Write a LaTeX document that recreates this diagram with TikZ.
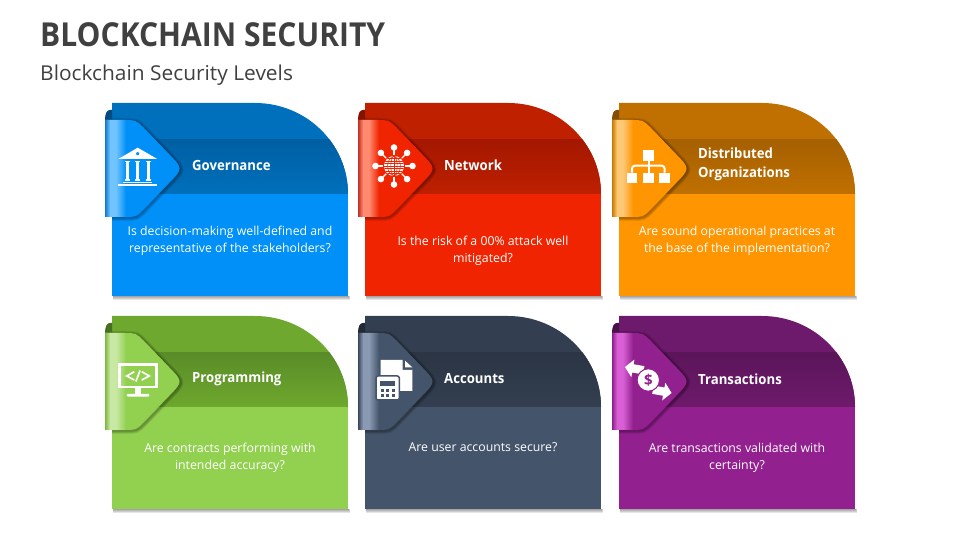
\documentclass[tikz,border=0pt]{standalone}
\usepackage{fontspec}
\setmainfont{Open Sans}
\newfontfamily\titlefont[FakeStretch=0.91]{Open Sans}
\newfontfamily\subfont[FakeStretch=1.02]{Open Sans}
\newfontfamily\cardfont[FakeStretch=0.94]{Open Sans}
\definecolor{bluemain}{HTML}{0090F8}\definecolor{bluedark}{HTML}{0070BC}\definecolor{blueband}{HTML}{005FA3}\definecolor{bluelight}{HTML}{70C4FF}\definecolor{blueedge}{HTML}{1278D0}
\definecolor{redmain}{HTML}{F02400}\definecolor{reddark}{HTML}{BE2000}\definecolor{redband}{HTML}{A41700}\definecolor{redlight}{HTML}{FF8A70}\definecolor{rededge}{HTML}{C03020}
\definecolor{orangemain}{HTML}{FF9500}\definecolor{orangedark}{HTML}{C07000}\definecolor{orangeband}{HTML}{A56000}\definecolor{orangelight}{HTML}{FFC875}\definecolor{orangeedge}{HTML}{C87800}
\definecolor{greenmain}{HTML}{92D050}\definecolor{greendark}{HTML}{6EA82E}\definecolor{greenband}{HTML}{598C28}\definecolor{greenlight}{HTML}{C8E8A4}\definecolor{greenedge}{HTML}{7DB840}
\definecolor{slatemain}{HTML}{44546A}\definecolor{slatedark}{HTML}{333F50}\definecolor{slateband}{HTML}{2B3544}\definecolor{slatelight}{HTML}{8A9AB2}\definecolor{slateedge}{HTML}{3A475A}
\definecolor{purplemain}{HTML}{92208F}\definecolor{purpledark}{HTML}{6E1A6C}\definecolor{purpleband}{HTML}{5B1559}\definecolor{purplelight}{HTML}{D860D4}\definecolor{purpleedge}{HTML}{8C1F8A}
\tikzset{
	cardtitle/.style={text=white, inner sep=0pt, anchor=west, align=left, font=\fontsize{14}{19}\cardfont\bfseries},
	cardtext/.style={text=white, inner sep=0pt, anchor=north, align=center, font=\fontsize{12.3}{17}\selectfont},
	icon/.style={fill=white, draw=none},
	iconline/.style={draw=white, line width=2pt}
}
\newcommand{\tabpath}{(-7,-17) -- (12,-17) .. controls (24,-17) .. (32,-25) -- (57,-51) .. controls (71,-65.5) .. (57,-80) -- (32,-106) .. controls (24,-114) .. (12,-114) -- (-7,-114) -- cycle}
\newcommand{\blockcard}[3]{%
	\begin{scope}[shift={(#1,#2)}]
	% shadow under the card
	\foreach \w in {1,2,3,4} {\fill[black, opacity=.1] (1,-193) rectangle (236+.5*\w,-193-\w);}
	\fill[#3main] (0,-90) rectangle (236,-193);
	\fill[#3dark] (0,0) -- (143,0) arc[start angle=90, end angle=0, x radius=93, y radius=91] -- (0,-91) -- cycle;
	\begin{scope}
		\clip (0,0) -- (143,0) arc[start angle=90, end angle=0, x radius=93, y radius=91] -- (0,-91) -- cycle;
		\shade[top color=#3band, bottom color=#3dark] (0,-37) rectangle (236,-91);
	\end{scope}
	% back of the ribbon
	\fill[#3band!80!black] (0,-7) -- (-2,-7) .. controls (-5,-7) and (-7,-10) .. (-7,-17) -- (0,-17) -- cycle;
	\begin{scope}
		\clip (0,0) rectangle (236,-193);
		\foreach \w in {1,2,3,4,5,6} {\draw[black, opacity=.06, line width=\w pt, shift={(1,-1)}] \tabpath;}
	\end{scope}
	\fill[#3main] \tabpath;
	\begin{scope}
		\clip \tabpath;
		\shade[left color=#3edge, right color=#3light] (-7,-10) rectangle (-1.9,-120);
		\fill[#3light] (-2,-10) rectangle (4,-120);
		\shade[left color=#3light, right color=#3main] (3.9,-10) rectangle (14,-120);
	\end{scope}
	\end{scope}
}
\begin{document}
\begin{tikzpicture}[x=1pt, y=1pt]
	\useasboundingbox (0,0) rectangle (960,540);
	\fill[white] (0,0) rectangle (960,540);
	\node[text=black!75, inner sep=0pt, anchor=base west, font=\fontsize{33}{33}\titlefont\bfseries] (title) at (40,493.5) {BLOCKCHAIN SECURITY};
	\node[text=black!75, inner sep=0pt, anchor=base west, font=\fontsize{20.5}{21}\subfont] (subtitle) at (40,459.5) {Blockchain Security Levels};
	\foreach \cx/\cy/\cname in {112/437/blue, 365/437/red, 619/437/orange, 112/224/green, 365/224/slate, 619/224/purple} {
		\blockcard{\cx}{\cy}{\cname}
	}

	\node[cardtitle] (govtitle) at (192,374.5) {Governance};
	\node[cardtitle] (nettitle) at (444,374.5) {Network};
	\node[cardtitle] (orgtitle) at (698,376) {Distributed\\Organizations};
	\node[cardtitle] (progtitle) at (192,161) {Programming};
	\node[cardtitle] (acctitle) at (444,161) {Accounts};
	\node[cardtitle] (transtitle) at (698,161) {Transactions};
	\node[cardtext] (govtext) at (230,314) {Is decision-making well-defined and\\representative of the stakeholders?};
	\node[cardtext] (nettext) at (483,304) {Is the risk of a 00\% attack well\\mitigated?};
	\node[cardtext] (orgtext) at (737,314) {Are sound operational practices at\\the base of the implementation?};
	\node[cardtext] (progtext) at (230,97.5) {Are contracts performing with\\intended accuracy?};
	\node[cardtext] (acctext) at (483,97.5) {Are user accounts secure?};
	\node[cardtext] (transtext) at (737,97.5) {Are transactions validated with\\certainty?};

	% bank
	\begin{scope}[shift={(112,437)}]
		\fill[icon, even odd rule] (25.7,-44.7) -- (45.3,-56) -- (6.3,-56) -- cycle (25.7,-50.7) circle (2.2pt);
		\draw[white, line width=.8pt] (25.7,-50.7) circle (2.2pt);
		\foreach \px in {15.3,25.7,36.3} {
			\fill[icon] (\px-1.6,-59.5) rectangle (\px+1.6,-76);
			\fill[icon] (\px-2.6,-57.7) rectangle (\px+2.6,-59);
			\fill[icon] (\px-2.6,-76.4) rectangle (\px+2.6,-77.7);
		}
		\fill[icon] (11.3,-78.6) rectangle (40.3,-79.8);
		\fill[icon] (6.3,-81.2) rectangle (45.3,-82.7);
	\end{scope}
	% globe with spokes
	\begin{scope}[shift={(394,374)}]
		\foreach \a in {0,45,...,315} {
			\draw[white, line width=1.1pt] (\a:11) -- (\a:18);
			\fill[icon] (\a:18.5) circle (3.3pt);
		}
		\begin{scope}
			\clip (0,0) circle (10pt);
			\fill[icon] (-11,-11) rectangle (11,11);
			\foreach \g in {-7.5,-5,...,7.5} {
				\draw[redmain, line width=.55pt] (-11,\g) -- (11,\g);
			}
			\draw[redmain, line width=.55pt] (0,-11) -- (0,11);
			\foreach \rx in {3.2,6.4} {
				\draw[redmain, line width=.55pt] (0,0) ellipse[x radius=\rx, y radius=9.6];
			}
		\end{scope}
	\end{scope}
	% org chart
	\begin{scope}[shift={(619,437)}]
		\fill[icon] (24.3,-47) rectangle (35.3,-58);
		\foreach \bx in {7.7,24.3,40.3} {\fill[icon] (\bx,-69.7) rectangle (\bx+10.7,-79.7);}
		\draw[iconline] (29.8,-58) -- (29.8,-69.7);
		\draw[iconline, rounded corners=3pt] (13,-69.7) -- (13,-62.7) -- (45.7,-62.7) -- (45.7,-69.7);
	\end{scope}
	% monitor
	\begin{scope}[shift={(112,224)}]
		\draw[iconline, line width=2.4pt] (7.5,-48.5) rectangle (44.5,-71);
		\fill[icon] (23,-72) rectangle (29,-78);
		\fill[icon, rounded corners=1pt] (14.7,-78) rectangle (37.3,-80.7);
		\draw[white, line width=1.7pt] (22.3,-55.7) -- (14.7,-60) -- (22.3,-64);
		\draw[white, line width=1.7pt] (28,-54.5) -- (23.9,-65.5);
		\draw[white, line width=1.7pt] (29.7,-55.7) -- (37.3,-60) -- (29.7,-64);
	\end{scope}
	% document and calculator
	\begin{scope}[shift={(365,224)}]
		\fill[icon] (15.7,-44) -- (37.7,-44) -- (37.7,-54) -- (47.3,-54) -- (47.3,-75) -- (15.7,-75) -- cycle;
		\fill[icon] (40,-44.7) -- (47.3,-51.3) -- (40,-51.3) -- cycle;
		\filldraw[fill=white, draw=slatemain, line width=1.5pt, rounded corners=2pt] (11,-60) rectangle (34.3,-84);
		\fill[slatemain] (15,-64.7) rectangle (30,-70);
		\foreach \kx in {17,22.7,28.4} {
			\foreach \ky in {-74.5,-79.5} {\fill[slatemain] (\kx-1.5,\ky-1.5) rectangle (\kx+1.5,\ky+1.5);}
		}
	\end{scope}
	% dollar coin and two arrows
	\begin{scope}[shift={(648.3,160)}]
		\foreach \ang in {0,180} {
			\begin{scope}[rotate=\ang, shift={(-23.3,13)}, rotate=-10]
				\fill[icon] (0,0) -- (8,9) -- (8,4.2) -- (19,4.2) -- (19,-4.2) -- (8,-4.2) -- (8,-9) -- cycle;
			\end{scope}
		}
		\filldraw[fill=white, draw=purplemain, line width=1pt] (0,0) circle (11.2pt);
		\node[text=purplemain, inner sep=0pt, font=\fontsize{15}{15}\selectfont\bfseries] (coin) at (0,0) {\$};
	\end{scope}
\end{tikzpicture}
\end{document}
